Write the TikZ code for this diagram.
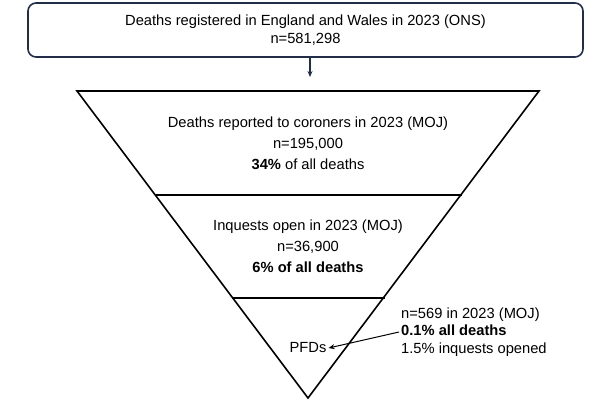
\documentclass[tikz,border=0pt]{standalone}
\usepackage{fontspec}
\setmainfont{Liberation Sans}
\usetikzlibrary{arrows.meta}
\begin{document}
\begin{tikzpicture}[x=1pt,y=-1pt,
  txt/.style={font=\fontsize{14.7}{21}\selectfont, align=center, inner sep=0pt},
  sidetxt/.style={font=\fontsize{14.7}{17.5}\selectfont, align=left, inner sep=0pt},
  edge/.style={line width=1.6pt, black}]
\definecolor{navy}{HTML}{1F2D50}
\useasboundingbox (0,0) rectangle (600,400);
\node[draw=navy, line width=1.6pt, rounded corners=8pt, minimum width=555pt, minimum height=54pt, txt, font=\fontsize{14.7}{18}\selectfont] (top) at (305.5,30) {Deaths registered in England and Wales in 2023 (ONS)\\n=581,298};
\coordinate (tl) at (77,91);
\coordinate (tr) at (539,91);
\coordinate (ap) at (308,398);
\draw[edge, line join=miter] (tl) -- (tr) -- (ap) -- cycle;
\draw[edge] (155,195) -- (462,195);
\draw[edge] (232,298) -- (385,298);
\coordinate (arr) at (310,77);
\draw[navy, line width=1.2pt, -{Stealth[length=6pt,width=5pt]}] (top.south -| arr) -- (arr);
\node[txt] (c1) at (308,143) {Deaths reported to coroners in 2023 (MOJ)\\n=195,000\\\textbf{34\%} of all deaths};
\node[txt] (c2) at (308,246) {Inquests open in 2023 (MOJ)\\n=36,900\\\textbf{6\% of all deaths}};
\node[txt] (pfd) at (308,348) {PFDs};
\node[sidetxt, anchor=west] (side) at (401,332) {n=569 in 2023 (MOJ)\\\textbf{0.1\% all deaths}\\1.5\% inquests opened};
\draw[line width=1pt, -{Stealth[length=6pt,width=5pt]}] ([xshift=-2pt]side.west) -- ([xshift=2pt]pfd.east);
\end{tikzpicture}
\end{document}
